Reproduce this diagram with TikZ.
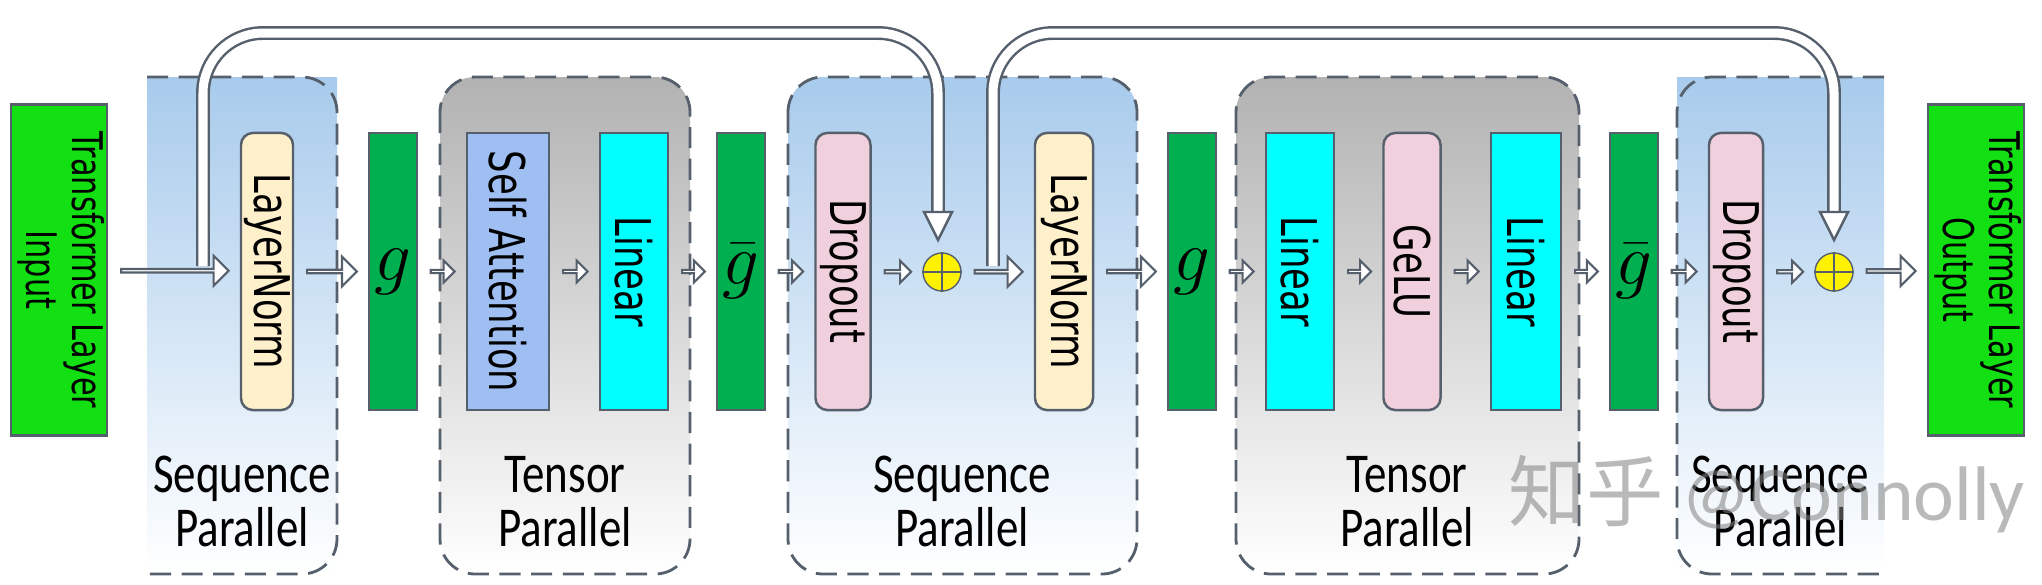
\documentclass[tikz,border=0pt]{standalone}
\usepackage{fontspec}
\setmainfont{Carlito}
\newfontfamily\blockfont{DejaVu Sans}
\newfontfamily\cjk{Noto Sans CJK SC}
\usetikzlibrary{shapes.arrows,calc}
\definecolor{edge}{HTML}{56606C}
\definecolor{spblue}{HTML}{A8CBEC}
\definecolor{tpgray}{HTML}{B2B2B2}
\definecolor{lnfill}{HTML}{FFF0CC}
\definecolor{ggreen}{HTML}{00B050}
\definecolor{safill}{HTML}{9FBFF2}
\definecolor{linfill}{HTML}{00FFFF}
\definecolor{pinkfill}{HTML}{F0D0DC}
\definecolor{iofill}{HTML}{12E012}
\newcommand{\vtext}[1]{\rotatebox{-90}{\scalebox{0.72}[1]{#1}}}
\newcommand{\lbl}[2]{\scalebox{0.8}[1]{\begin{tabular}{@{}c@{}}#1\\#2\end{tabular}}}
\tikzset{
  block/.style={draw=edge, line width=0.7pt, minimum height=2.77cm,
    font=\blockfont\fontsize{14}{14}\selectfont, inner sep=0pt},
  round/.style={block, rounded corners=0.12cm},
  gate/.style={draw=edge, line width=0.5pt, fill=ggreen, minimum height=2.77cm,
    minimum width=0.48cm, inner sep=0pt, font=\fontsize{22}{22}\selectfont},
  io/.style={draw=edge, line width=0.7pt, fill=iofill, minimum height=3.31cm,
    minimum width=0.96cm, inner sep=0pt, font=\blockfont\fontsize{12}{13}\selectfont},
  big/.style={single arrow, draw=edge, fill=white, line width=0.6pt, minimum width=0.30cm,
    single arrow head extend=0.08cm, inner sep=0pt},
  small/.style={single arrow, draw=edge, fill=white, line width=0.6pt, minimum width=0.22cm,
    single arrow head extend=0.06cm, inner sep=0pt},
  region/.style={draw=edge, line width=0.8pt, dash pattern=on 6pt off 3pt},
  skip/.style={draw=edge, line width=0.7pt, double=white, double distance=0.09cm,
    rounded corners=0.6cm},
  label/.style={font=\fontsize{16}{14}\selectfont}
}
\newcommand{\hop}[3]{%
  \path let \p1=(#1.east), \p2=(#2.west) in
    node[#3, minimum height={\x2-\x1-0.24cm}] at ($(\p1)!0.5!(\p2)$) {};}
\begin{document}
\begin{tikzpicture}[x=0.01cm, y=-0.01cm]
\useasboundingbox (0,0) rectangle (2042,584);

% parallel regions
\shade[top color=spblue, bottom color=white] (147,77) rectangle (337,574);
\draw[region, rounded corners=0.35cm] (147,77) -- (337,77) -- (337,574) -- (147,574);
\shade[top color=tpgray, bottom color=white, rounded corners=0.35cm] (440,77) rectangle (690,574);
\draw[region, rounded corners=0.35cm] (440,77) rectangle (690,574);
\shade[top color=spblue, bottom color=white, rounded corners=0.35cm] (788,77) rectangle (1137,574);
\draw[region, rounded corners=0.35cm] (788,77) rectangle (1137,574);
\shade[top color=tpgray, bottom color=white, rounded corners=0.35cm] (1236,77) rectangle (1579,574);
\draw[region, rounded corners=0.35cm] (1236,77) rectangle (1579,574);
\shade[top color=spblue, bottom color=white] (1677,77) rectangle (1884,574);
\draw[region, rounded corners=0.35cm] (1884,77) -- (1677,77) -- (1677,574) -- (1884,574);

% region labels
\node[label] (sp1) at (242,509) {\lbl{Sequence}{Parallel}};
\node[label] (tp1) at (565,509) {\lbl{Tensor}{Parallel}};
\node[label] (sp2) at (962,509) {\lbl{Sequence}{Parallel}};
\node[label] (tp2) at (1407,509) {\lbl{Tensor}{Parallel}};
\node[label] (sp3) at (1780,509) {\lbl{Sequence}{Parallel}};

% blocks
\node[io] (in) at (59,270) {\vtext{\begin{tabular}{@{}c@{}}Transformer Layer\\Input\end{tabular}}};
\node[round, fill=lnfill, minimum width=0.52cm] (ln1) at (267,271.5) {\vtext{LayerNorm}};
\node[gate] (g1) at (393,271.5) {$g$};
\node[block, fill=safill, minimum width=0.82cm] (sa) at (508,271.5) {\vtext{Self Attention}};
\node[block, fill=linfill, minimum width=0.68cm] (lin1) at (634,271.5) {\vtext{Linear}};
\node[gate] (gb1) at (741,271.5) {$\bar{g}$};
\node[round, fill=pinkfill, minimum width=0.55cm] (drop1) at (843,271.5) {\vtext{Dropout}};
\node[circle, draw=edge, fill=yellow, minimum size=0.38cm, inner sep=0pt] (add1) at (942,272) {};
\node[round, fill=lnfill, minimum width=0.58cm] (ln2) at (1064,271.5) {\vtext{LayerNorm}};
\node[gate] (g2) at (1192,271.5) {$g$};
\node[block, fill=linfill, minimum width=0.68cm] (lin2) at (1300,271.5) {\vtext{Linear}};
\node[round, fill=pinkfill, minimum width=0.57cm] (gelu) at (1412,271.5) {\vtext{GeLU}};
\node[block, fill=linfill, minimum width=0.70cm] (lin3) at (1526,271.5) {\vtext{Linear}};
\node[gate] (gb2) at (1634,271.5) {$\bar{g}$};
\node[round, fill=pinkfill, minimum width=0.54cm] (drop2) at (1736,271.5) {\vtext{Dropout}};
\node[circle, draw=edge, fill=yellow, minimum size=0.38cm, inner sep=0pt] (add2) at (1834,272) {};
\node[io] (out) at (1976,270) {\vtext{\begin{tabular}{@{}c@{}}Transformer Layer\\Output\end{tabular}}};

% plus signs
\foreach \a in {add1,add2} {
  \draw[edge, line width=0.6pt] (\a.north) -- (\a.south) (\a.west) -- (\a.east);
}

% residual paths
\coordinate (s1) at (203,266);
\coordinate (s2) at (993,266);
\draw[skip] (s1) |- (938,33) -- (938,214);
\draw[skip] (s2) |- (1834,33) -- (1834,214);
\filldraw[fill=white, draw=edge, line width=0.7pt] (924,212) -- (952,212) -- (938,240) -- cycle;
\filldraw[fill=white, draw=edge, line width=0.7pt] (1820,212) -- (1848,212) -- (1834,240) -- cycle;

% flow arrows
\hop{in}{ln1}{big}
\hop{ln1}{g1}{big}
\hop{g1}{sa}{small}
\hop{sa}{lin1}{small}
\hop{lin1}{gb1}{small}
\hop{gb1}{drop1}{small}
\hop{drop1}{add1}{small}
\hop{add1}{ln2}{big}
\hop{ln2}{g2}{big}
\hop{g2}{lin2}{small}
\hop{lin2}{gelu}{small}
\hop{gelu}{lin3}{small}
\hop{lin3}{gb2}{small}
\hop{gb2}{drop2}{small}
\hop{drop2}{add2}{small}
\hop{add2}{out}{big}

% watermark
\node[text=gray, opacity=0.55, font=\fontsize{22}{22}\selectfont] (wm) at (1767,494)
  {{\cjk 知乎} @Connolly};
\end{tikzpicture}
\end{document}
